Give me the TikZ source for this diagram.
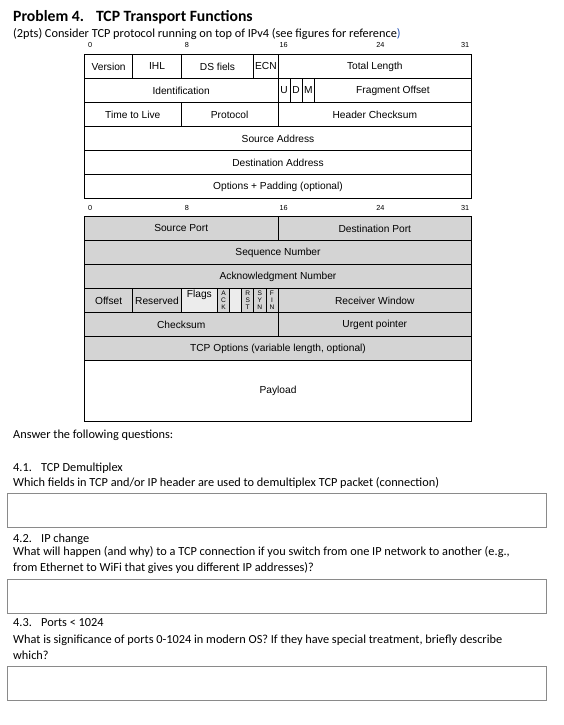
\documentclass[tikz,border=0pt]{standalone}
\usepackage{fontspec}
\setmainfont{Carlito}
\newfontfamily\cellfont{Liberation Sans}
\definecolor{tcpgray}{HTML}{D4D4D4}
\definecolor{flaggray}{HTML}{ECECEC}
\definecolor{boxgray}{HTML}{8A8A8A}
\definecolor{linkblue}{HTML}{1F4EB4}

\begin{document}
\begin{tikzpicture}[x=1pt,y=-1pt,
        every node/.style = {inner sep=0pt},
        field/.style = {draw, line width=0.8pt, anchor=north west,
            minimum height=24pt, fill=white,
            font=\cellfont\fontsize{10.2}{12}\selectfont},
        tcpfield/.style = {field, fill=tcpgray},
        w/.style = {minimum width=#1*12.1pt},
        bitno/.style = {font=\cellfont\fontsize{7.3}{8}\selectfont},
        flagbit/.style = {tcpfield, w=1, align=center,
            font=\cellfont\fontsize{6.6}{6.9}\selectfont},
        qtext/.style = {anchor=base west, font=\fontsize{12.3}{14}\selectfont},
        ansbox/.style = {draw=boxgray, line width=0.8pt}]

    \useasboundingbox (0,0) rectangle (563,725);

    % heading
    \node[qtext, font=\bfseries\fontsize{15.7}{18}\selectfont] (title) at (13,21.5)
        {Problem 4.\hspace{12pt}TCP Transport Functions};
    \node[qtext] (intro) at (13,37.5)
        {(2pts) Consider TCP protocol running on top of IPv4 (see figures for reference\textcolor{linkblue}{)}};

    % IPv4 header
    \begin{scope}[shift={(84,54)}, x=12.1pt, y=-24pt]
        \foreach \b in {0,8,16,24,31}
            \node[bitno] (ipbit\b) at (\b+0.5,-0.36) {\b};
        \node[field, w=4] (ver) at (0,0) {Version};
        \node[field, w=4] (ihl) at (4,0) {IHL};
        \node[field, w=6] (dsf) at (8,0) {DS fiels};
        \node[field, w=2] (ecn) at (14,0) {ECN};
        \node[field, w=16] (totlen) at (16,0) {Total Length};
        \node[field, w=16] (ident) at (0,1) {Identification};
        \node[field, w=1] (fu) at (16,1) {U};
        \node[field, w=1] (fd) at (17,1) {D};
        \node[field, w=1] (fm) at (18,1) {M};
        \node[field, w=13] (fragoff) at (19,1) {Fragment Offset};
        \node[field, w=8] (ttl) at (0,2) {Time to Live};
        \node[field, w=8] (proto) at (8,2) {Protocol};
        \node[field, w=16] (hchk) at (16,2) {Header Checksum};
        \node[field, w=32] (srcaddr) at (0,3) {Source Address};
        \node[field, w=32] (dstaddr) at (0,4) {Destination Address};
        \node[field, w=32] (ipopts) at (0,5) {Options + Padding (optional)};
    \end{scope}

    % TCP header
    \begin{scope}[shift={(84,216)}, x=12.1pt, y=-24pt]
        \foreach \b in {0,8,16,24,31}
            \node[bitno] (tcpbit\b) at (\b+0.5,-0.33) {\b};
        \node[tcpfield, w=16] (sport) at (0,0) {Source Port};
        \node[tcpfield, w=16] (dport) at (16,0) {Destination Port};
        \node[tcpfield, w=32] (seqno) at (0,1) {Sequence Number};
        \node[tcpfield, w=32] (ackno) at (0,2) {Acknowledgment Number};
        \node[tcpfield, w=4] (offset) at (0,3) {Offset};
        \node[tcpfield, w=4] (rsv) at (4,3) {Reserved};
        \node[tcpfield, w=3, fill=flaggray,
            label={[anchor=north, yshift=-1.5pt, font=\cellfont\fontsize{10.2}{12}\selectfont]north:Flags}]
            (flags) at (8,3) {};
        \node[flagbit] (fack) at (11,3) {A\\C\\K};
        \node[flagbit, fill=flaggray] (fnone) at (12,3) {};
        \node[flagbit] (frst) at (13,3) {R\\S\\T};
        \node[flagbit] (fsyn) at (14,3) {S\\Y\\N};
        \node[flagbit] (ffin) at (15,3) {F\\I\\N};
        \node[tcpfield, w=16] (rwnd) at (16,3) {Receiver Window};
        \node[tcpfield, w=16] (tcpchk) at (0,4) {Checksum};
        \node[tcpfield, w=16] (urgptr) at (16,4) {Urgent pointer};
        \node[tcpfield, w=32] (tcpopts) at (0,5) {TCP Options (variable length, optional)};
        \node[field, w=32, minimum height=61pt] (payload) at (0,6) {Payload};
    \end{scope}

    % questions
    \node[qtext] (answer) at (13,438.5) {Answer the following questions:};

    \node[qtext] (q1head) at (13,471.5) {\makebox[28pt][l]{4.1.}TCP Demultiplex};
    \node[qtext] (q1) at (13,486.5)
        {Which fields in TCP and/or IP header are used to demultiplex TCP packet (connection)};
    \draw[ansbox] (7,493) rectangle (546,527);

    \node[qtext] (q2head) at (13,542.5) {\makebox[28pt][l]{4.2.}IP change};
    \node[qtext] (q2a) at (13,555.5)
        {What will happen (and why) to a TCP connection if you switch from one IP network to another (e.g.,};
    \node[qtext] (q2b) at (13,571.5)
        {from Ethernet to WiFi that gives you different IP addresses)?};
    \draw[ansbox] (7,579) rectangle (546,613);

    \node[qtext] (q3head) at (13,626.5) {\makebox[28pt][l]{4.3.}Ports < 1024};
    \node[qtext] (q3a) at (13,643.5)
        {What is significance of ports 0-1024 in modern OS? If they have special treatment, briefly describe};
    \node[qtext] (q3b) at (13,659.5) {which?};
    \draw[ansbox] (7,666) rectangle (546,700);
\end{tikzpicture}
\end{document}
